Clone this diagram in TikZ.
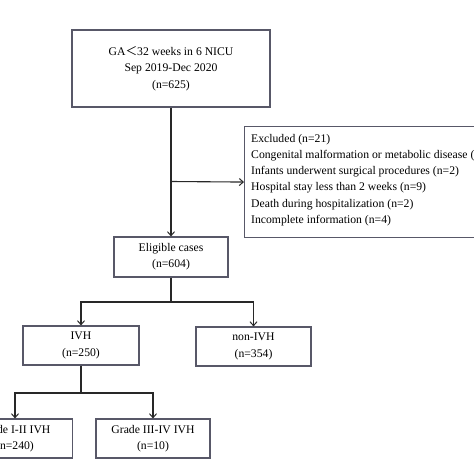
\documentclass[tikz,border=0pt]{standalone}
\usepackage{fontspec}
\setmainfont{Liberation Serif}
\newfontfamily\cjk{Noto Sans CJK SC}
\usetikzlibrary{arrows.meta}
\definecolor{boxc}{RGB}{88,88,104}
\definecolor{linec}{RGB}{40,40,40}
\begin{document}
\begin{tikzpicture}[x=1pt,y=-1pt,
  font=\fontsize{11.7}{16.3}\selectfont,
  fbox/.style={draw=boxc,line width=1.1pt,align=center,inner sep=0pt,fill=white},
  conn/.style={draw=linec,line width=1.1pt},
  arr/.style={conn,-{Straight Barb[length=4pt,width=7pt,line width=1pt]}}]
\useasboundingbox (0,0) rectangle (474,474);
\fill[white] (0,0) rectangle (474,474);
\node[fbox,minimum width=198pt,minimum height=77pt] (top) at (171,68.5)
  {GA{\cjk ＜}32 weeks in 6 NICU\\Sep 2019-Dec 2020\\(n=625)};
\node[fbox,anchor=north west,minimum width=276pt,minimum height=111pt] (excl) at (244,126) {};
\node[anchor=west,align=left,inner sep=0pt] (excltext) at (251,180)
  {Excluded (n=21)\\Congenital malformation or metabolic disease (n=4)\\Infants underwent surgical procedures (n=2)\\Hospital stay less than 2 weeks (n=9)\\Death during hospitalization (n=2)\\Incomplete information (n=4)};
\node[fbox,minimum width=114pt,minimum height=40pt] (elig) at (171,257) {Eligible cases\\(n=604)};
\node[fbox,minimum width=116pt,minimum height=39pt] (ivh) at (81,345.5) {IVH\\(n=250)};
\node[fbox,minimum width=115pt,minimum height=39pt] (non) at (253.5,346.5) {non-IVH\\(n=354)};
\node[fbox,minimum width=115pt,minimum height=39pt] (g12) at (15,438.5) {Grade I-II IVH\\(n=240)};
\node[fbox,minimum width=114pt,minimum height=39pt] (g34) at (153,438.5) {Grade III-IV IVH\\(n=10)};
\coordinate (b1) at (171,181.5);
\coordinate (b2) at (171,302);
\coordinate (b3) at (81,393);
\draw[arr] (top.south) -- (elig.north);
\draw[arr] (b1) -- (excl.west);
\draw[conn] (elig.south) -- (b2);
\draw[arr] (b2) -| (ivh.north);
\draw[arr] (b2) -| (non.north);
\draw[conn] (ivh.south) -- (b3);
\draw[arr] (b3) -| (g12.north);
\draw[arr] (b3) -| (g34.north);
\end{tikzpicture}
\end{document}
